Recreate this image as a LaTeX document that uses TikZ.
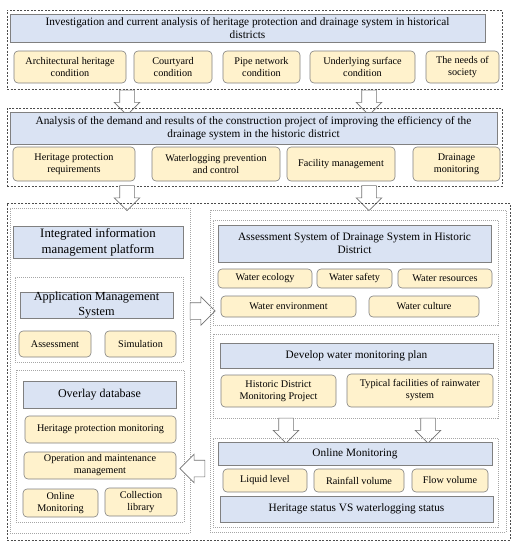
\documentclass[tikz,border=0pt]{standalone}
\usepackage{fontspec}
\setmainfont{Liberation Serif}
\usetikzlibrary{shapes.arrows}
\definecolor{hdrblue}{RGB}{218,227,243}
\definecolor{itemyellow}{RGB}{255,242,204}
\begin{document}
\begin{tikzpicture}[x=1pt,y=-1pt,
  wh/.style 2 args={minimum width=#1pt,minimum height=#2pt},
  stage/.style={draw=black!70,line width=0.9pt,dash pattern=on 2pt off 1.5pt,inner sep=0pt},
  panel/.style={draw=black!35,line width=0.5pt,dash pattern=on 1pt off 1pt,inner sep=0pt},
  header/.style={draw=black!50,fill=hdrblue,line width=0.6pt,inner sep=1pt,align=center,
    font=\fontsize{11.3}{13}\selectfont},
  item/.style={draw=black!50,fill=itemyellow,rounded corners=4pt,line width=0.6pt,inner sep=1pt,
    align=center,font=\fontsize{10.2}{12}\selectfont},
  hollow/.style={single arrow,draw=black!55,fill=white,line width=0.6pt,inner xsep=0pt,inner ysep=7pt,
    single arrow head extend=5.5pt,minimum width=18pt,minimum height=25pt}]
\useasboundingbox (0,0) rectangle (518,550);

% stage 1
\node[stage, wh={495}{79}] (s1) at (254.5,49.5) {};
\node[header, wh={475}{28}] (h1) at (247.5,28) {Investigation and current analysis of heritage protection and drainage system in historical\\districts};
\node[item, wh={112}{32}] (a1) at (70,67)    {Architectural heritage\\condition};
\node[item, wh={78}{32}]  (a2) at (173,67)   {Courtyard\\condition};
\node[item, wh={77}{32}]  (a3) at (261.5,67) {Pipe network\\condition};
\node[item, wh={105}{32}] (a4) at (362.5,67) {Underlying surface\\condition};
\node[item, wh={73}{32}]  (a5) at (462.5,67) {The needs of\\society};

\node[hollow, rotate=-90] (ar1) at (127,99) {};
\node[hollow, rotate=-90] (ar2) at (369,99) {};

% stage 2
\node[stage, wh={495}{78}] (s2) at (254.5,147) {};
\node[header, wh={487}{32}] (h2) at (253.5,128) {Analysis of the demand and results of the construction project of improving the efficiency of the\\drainage system in the historic district};
\node[item, wh={122}{34}] (b1) at (74,164)    {Heritage protection\\requirements};
\node[item, wh={128}{34}] (b2) at (216,164)   {Waterlogging prevention\\and control};
\node[item, wh={108}{34}] (b3) at (341,164)   {Facility management};
\node[item, wh={87}{34}]  (b4) at (456.5,164) {Drainage\\monitoring};

\node[hollow, rotate=-90] (ar3) at (127,194.5) {};
\node[hollow, rotate=-90] (ar4) at (369,194.5) {};

% stage 3
\node[stage, wh={503}{337}] (s3) at (258.5,371.5) {};

% left side
\node[panel, wh={180}{325}] (pl) at (100,370.5) {};
\node[header, wh={170}{32}, font=\fontsize{12.8}{16}\selectfont] (c0) at (98,242) {Integrated information\\management platform};

\node[panel, wh={168}{85}] (papp) at (99,319.5) {};
\node[header, wh={153}{26}, inner sep=0pt, font=\fontsize{12.3}{15}\selectfont] (c1) at (96.5,305) {Application Management\\System};
\node[item, wh={72}{26}] (c2) at (55,344)    {Assessment};
\node[item, wh={71}{26}] (c3) at (140.5,344) {Simulation};

\node[panel, wh={168}{152}] (pdb) at (100,446) {};
\node[header, wh={153}{27}, font=\fontsize{12}{13}\selectfont] (d0) at (99.5,394.5) {Overlay database};
\node[item, wh={151}{27}] (d1) at (100.5,429.5) {Heritage protection monitoring};
\node[item, wh={152}{27}] (d2) at (100,465.5)   {Operation and maintenance\\management};
\node[item, wh={75}{28}]  (d3) at (60.5,503)    {Online\\Monitoring};
\node[item, wh={72}{28}]  (d4) at (141,502)     {Collection\\library};

\node[hollow, inner ysep=8pt, single arrow head extend=6pt, minimum width=19pt] (ar5) at (198.5,311) {};
\node[hollow, inner ysep=8pt, single arrow head extend=6pt, minimum width=19pt, rotate=180] (ar6) at (196.5,468.5) {};

% right side
\node[panel, wh={296}{322}] (pr) at (358,371) {};

\node[panel, wh={285}{105}] (pasm) at (355.5,272.5) {};
\node[header, wh={273}{37}] (e0) at (354.5,243.5) {Assessment System of Drainage System in Historic\\District};
\node[item, wh={94}{19}]  (e1) at (265,278.5)   {Water ecology};
\node[item, wh={75}{19}]  (e2) at (354.5,278.5) {Water safety};
\node[item, wh={94}{19}]  (e3) at (445,278.5)   {Water resources};
\node[item, wh={135}{21}] (e4) at (288.5,306.5) {Water environment};
\node[item, wh={110}{21}] (e5) at (424,306.5)   {Water culture};

\node[panel, wh={285}{84}] (pplan) at (355.5,376) {};
\node[header, wh={273}{25}] (f0) at (356.5,355.5) {Develop water monitoring plan};
\node[item, wh={115}{32}] (f1) at (278.5,391) {Historic District\\Monitoring Project};
\node[item, wh={146}{33}] (f2) at (420,390.5) {Typical facilities of rainwater\\system};

\node[hollow, rotate=-90] (ar7) at (286,427) {};
\node[hollow, rotate=-90] (ar8) at (428,427) {};

\node[panel, wh={285}{89}] (pmon) at (355.5,482.5) {};
\node[header, wh={274}{23}] (g0) at (355,453.5) {Online Monitoring};
\node[item, wh={84}{23}] (g1) at (265,480.5) {Liquid level};
\node[item, wh={90}{23}] (g2) at (359,480.5) {Rainfall volume};
\node[item, wh={76}{23}] (g3) at (450,480.5) {Flow volume};
\node[header, wh={273}{26}] (g4) at (356.5,509) {Heritage status VS waterlogging status};
\end{tikzpicture}
\end{document}
